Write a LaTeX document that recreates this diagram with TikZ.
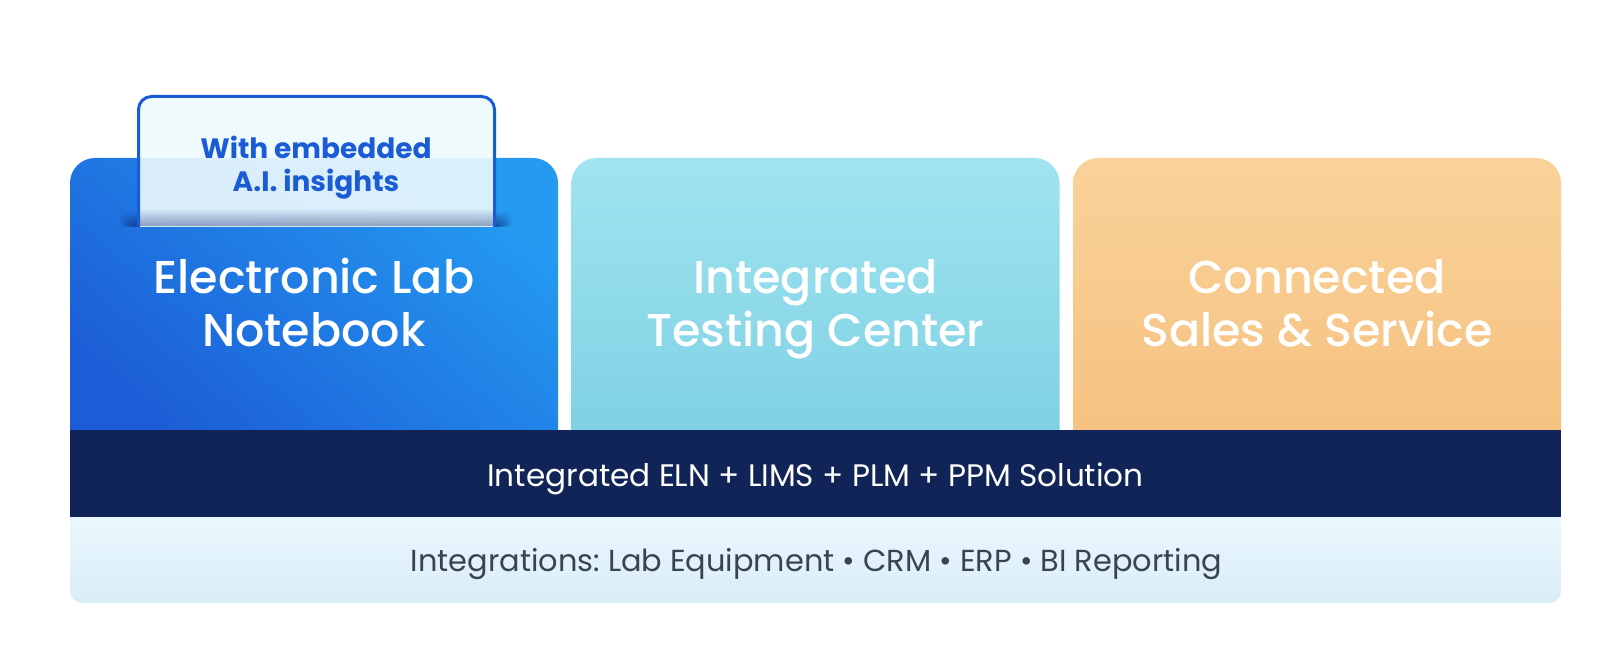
\documentclass[tikz,border=0pt]{standalone}
\usepackage{fontspec}
\setmainfont{Poppins}
\newfontfamily\popmed{Poppins Medium}
\usetikzlibrary{fadings}
\definecolor{navy}{RGB}{17,36,87}
\definecolor{elnA}{HTML}{249AF1}
\definecolor{elnB}{HTML}{1C5CD6}
\definecolor{itcA}{HTML}{A0E4F0}
\definecolor{itcB}{HTML}{7CCFE3}
\definecolor{cssA}{HTML}{F9D29A}
\definecolor{cssB}{HTML}{F6C07E}
\definecolor{lbA}{HTML}{F2FCFE}
\definecolor{lbB}{HTML}{D9EDF8}
\definecolor{tabfill}{HTML}{EEFAFD}
\definecolor{tabblue}{HTML}{1A5CD6}
\definecolor{greytxt}{HTML}{3A4354}
\definecolor{shadowc}{HTML}{0E2E70}
\tikzfading[name=fadetobottom, top color=transparent!100, bottom color=transparent!0]
\newcommand\twoline[3]{\vtop{\baselineskip=#1\relax\lineskiplimit=-100pt\halign{\hfil##\hfil\cr#2\cr#3\cr}}}
\frenchspacing
\begin{document}
\begin{tikzpicture}[x=1pt,y=-1pt,
  box/.style={rectangle, rounded corners=25pt, inner sep=0pt, outer sep=0pt, minimum width=488pt, minimum height=302pt},
  band/.style={rectangle, inner sep=0pt, outer sep=0pt, minimum width=1491pt},
  head/.style={anchor=base, text=white, font=\popmed\fontsize{46}{52}\selectfont, inner sep=0pt},
  bandtxt/.style={anchor=base, inner sep=0pt},
  tabtxt/.style={anchor=base, text=tabblue, font=\bfseries\fontsize{28}{33}\selectfont, inner sep=0pt},
  softshadow/.style={shadowc, opacity=0.16, rounded corners=5pt, path fading=fadetobottom}]
\useasboundingbox (0,0) rectangle (1600,660);
\fill[white] (0,0) rectangle (1600,660);
% three product boxes (bottoms hidden under the band)
\node[box, top color=elnA, bottom color=elnB, shading angle=-40] (eln) at (314,309) {};
\node[box, top color=itcA, bottom color=itcB] (itc) at (815.5,309) {};
\node[box, top color=cssA, bottom color=cssB] (css) at (1317,309) {};
% integrations band and core band
\node[band, rounded corners=12pt, minimum height=123pt, top color=lbA, bottom color=lbB] (integ) at (815.5,541.5) {};
\node[band, fill=navy, minimum height=87.5pt] (core) at (815.5,473.25) {};
% soft shadow under the tab
\foreach \i in {0,...,5}
  \fill[softshadow] (120+2.5*\i, 209+1.2*\i) rectangle (512-2.5*\i, 227);
% tab
\begin{scope}
\clip (0,0) rectangle (1600,226.5);
\node[draw=tabblue, line width=3pt, fill=tabfill, fill opacity=0.9, rounded corners=13pt,
      minimum width=356pt, minimum height=158.5pt, inner sep=0pt, outer sep=0pt] (tab) at (316.5,175.75) {};
\end{scope}
\fill[shadowc, path fading=fadetobottom, opacity=0.4] (140,208) rectangle (493,226.5);
% texts
\node[tabtxt] (tabT) at (316,158.3) {\twoline{33pt}{With embedded}{A.I. insights}};
\node[head] (elnT) at (314,294) {\twoline{52.7pt}{Electronic Lab}{Notebook}};
\node[head] (itcT) at (815.5,294) {\twoline{52.7pt}{Integrated}{Testing Center}};
\node[head] (cssT) at (1317,294) {\twoline{52.7pt}{Connected}{Sales \& Service}};
\node[bandtxt, text=white, font=\fontsize{31.1}{36}\selectfont] (coreT) at (815.5,486.5) {Integrated ELN + LIMS + PLM + PPM Solution};
\node[bandtxt, text=greytxt, font=\fontsize{30.4}{36}\selectfont] (integT) at (816.5,571.5) {Integrations: Lab Equipment • CRM • ERP • BI Reporting};
\end{tikzpicture}
\end{document}
